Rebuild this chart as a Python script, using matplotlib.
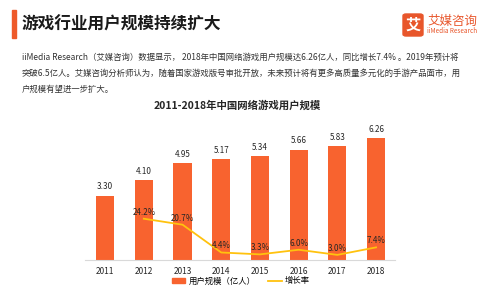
import matplotlib.pyplot as plt
from matplotlib.patches import Rectangle, FancyBboxPatch, Patch
from matplotlib.lines import Line2D

plt.rcParams['font.family'] = ['Noto Sans CJK SC', 'DejaVu Sans']

years = ['2011', '2012', '2013', '2014', '2015', '2016', '2017', '2018']
users = [3.30, 4.10, 4.95, 5.17, 5.34, 5.66, 5.83, 6.26]  # 亿人
growth = [None, 24.2, 20.7, 4.4, 3.3, 6.0, 3.0, 7.4]  # %

BAR = '#F8632F'
LINE = '#FFC20E'
TXT = '#262626'

W, H = 500, 295
fig = plt.figure(figsize=(W / 100, H / 100), dpi=100)
fig.patch.set_facecolor('white')


def fx(px):
    return px / W


def fy(py):
    return 1 - py / H


# header
fig.add_artist(Rectangle((fx(12), fy(38)), fx(4), 28 / H, color='#EE5A2A',
                         transform=fig.transFigure))
fig.text(fx(22), fy(25), '游戏行业用户规模持续扩大', fontsize=12, fontweight='bold',
         color='#1a1a1a', va='center', ha='left')

# logo
fig.add_artist(FancyBboxPatch((fx(403), fy(36)), fx(20), 22 / H,
                              boxstyle='round,pad=0,rounding_size=0.006',
                              color='#E8562B', transform=fig.transFigure))
fig.text(fx(413), fy(25), '艾', fontsize=11, fontweight='bold', color='white',
         ha='center', va='center')
fig.text(fx(427), fy(21), '艾媒咨询', fontsize=9, color='#E8562B',
         ha='left', va='center')
fig.text(fx(427), fy(31), 'iiMedia Research', fontsize=4.6, color='#E8562B',
         ha='left', va='center')

# paragraph
para = [
    'iiMedia Research（艾媒咨询）数据显示， 2018年中国网络游戏用户规模达6.26亿人，同比增长7.4% 。2019年预计将',
    '突破6.5亿人。艾媒咨询分析师认为，随着国家游戏版号审批开放，未来预计将有更多高质量多元化的手游产品面市，用',
    '户规模有望进一步扩大。',
]
for i, line in enumerate(para):
    fig.text(fx(22), fy(57 + i * 16), line, fontsize=6.05, color='#333333',
             ha='left', va='center')

# chart
fig.text(fx(237), fy(106), '2011-2018年中国网络游戏用户规模', fontsize=7.5,
         fontweight='bold', color=TXT, ha='center', va='center')

ax = fig.add_axes([fx(85), 35 / H, fx(310), 136.5 / H])
x = list(range(len(years)))
ax.bar(x, users, width=0.47, color=BAR, zorder=2)
ax.set_xlim(-0.52, 7.49)
ax.set_ylim(0, 7)
for xi, v in zip(x, users):
    ax.annotate(f'{v:.2f}', (xi, v), xytext=(0, 3), textcoords='offset points',
                ha='center', va='bottom', fontsize=5.8, color=TXT)

for s in ['top', 'right', 'left']:
    ax.spines[s].set_visible(False)
ax.spines['bottom'].set_color('#d9d9d9')
ax.spines['bottom'].set_linewidth(0.8)
ax.set_yticks([])
ax.set_xticks(x)
ax.set_xticklabels(years, fontsize=6, color=TXT)
ax.tick_params(axis='x', length=0, pad=5)

ax2 = ax.twinx()
gx = [xi for xi, g in zip(x, growth) if g is not None]
gy = [g for g in growth if g is not None]
ax2.plot(gx, gy, color=LINE, lw=1.3, zorder=3)
ax2.set_ylim(0, 80)
ax2.set_yticks([])
for s in ax2.spines.values():
    s.set_visible(False)
for xi, g in zip(gx, gy):
    ax2.annotate(f'{g:.1f}%', (xi, g), xytext=(0, 1.5), textcoords='offset points',
                 ha='center', va='bottom', fontsize=5.8, color=TXT)

handles = [Patch(color=BAR, label='用户规模（亿人）'),
           Line2D([0], [0], color=LINE, lw=1.3, label='增长率')]
fig.legend(handles=handles, loc='center', bbox_to_anchor=(fx(241), fy(281)),
           ncol=2, frameon=False, fontsize=6, handlelength=1.6, handleheight=0.6,
           columnspacing=1.5, handletextpad=0.4)

fig.savefig('out.png', dpi=100)
